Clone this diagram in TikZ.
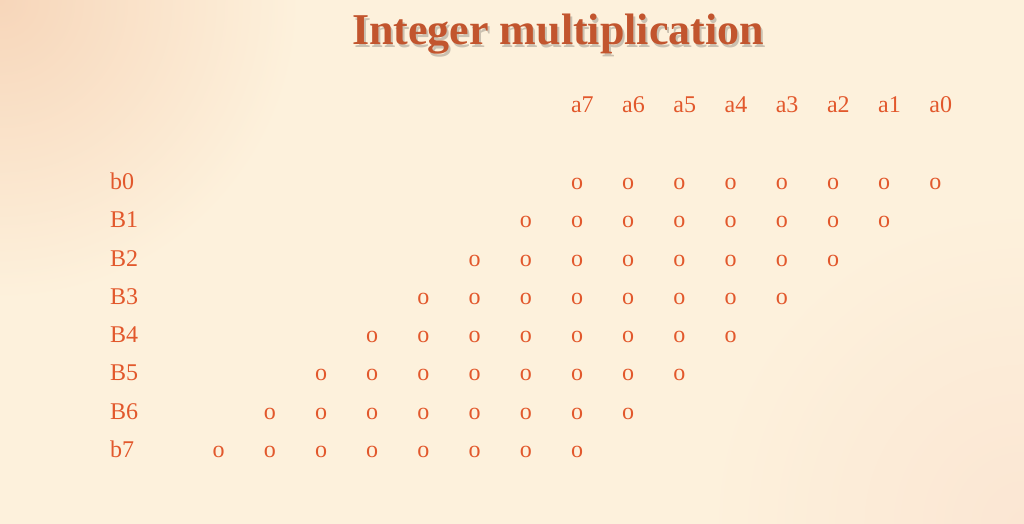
\documentclass[tikz,border=0pt]{standalone}
\usepackage{fontspec}
\setmainfont{Liberation Serif}
\usepackage{xcolor}
\usepackage{tikz}
\usetikzlibrary{matrix}
\definecolor{slidebg}{HTML}{FDF1DC}
\definecolor{peach}{HTML}{F7D6BA}
\definecolor{peachlow}{HTML}{FBE6D3}
\definecolor{digitred}{HTML}{E2582C}
\definecolor{titlered}{HTML}{C2552E}

\begin{document}
\begin{tikzpicture}[x=1pt,y=-1pt,font=\fontsize{24}{28}\selectfont]
						\fill[slidebg] (0,0) rectangle (1024,524);
						\begin{scope}
							\clip (0,0) rectangle (1024,524);
							\shade[inner color=peach,outer color=slidebg] (0,0) circle (300pt);
							\shade[inner color=peachlow,outer color=slidebg] (1024,524) circle (320pt);
						\end{scope}
						\useasboundingbox (0,0) rectangle (1024,524);
						\node[text=black,opacity=0.2,font=\bfseries\fontsize{44}{50}\selectfont] (shadow) at (560,37) {Integer multiplication};
						\node[text=titlered,font=\bfseries\fontsize{44}{50}\selectfont] (title) at (558,34) {Integer multiplication};
						\matrix(m)[matrix of nodes, anchor=north west, inner sep=0pt, nodes={text=digitred, inner sep=0pt, text width=51.2pt, text height=16pt, text depth=5pt, minimum height=38.3pt}, nodes in empty cells, column sep=0pt, row sep=0pt] at (110,88) {
									&	&	&	&	&	&	&	&	&a7	&a6	&a5	&a4	&a3	&a2	&a1	&a0	\\
									\\
						b0			&	&	&	&	&	&	&	&	&o	&o	&o	&o	&o	&o	&o	&o	\\
						B1			&	&	&	&	&	&	&	&o	&o	&o	&o	&o	&o	&o	&o	\\
						B2			&	&	&	&	&	&	&o	&o	&o	&o	&o	&o	&o	&o	\\
						B3			&	&	&	&	&	&o	&o	&o	&o	&o	&o	&o	&o	\\
						B4			&	&	&	&	&o	&o	&o	&o	&o	&o	&o	&o	\\
						B5			&	&	&	&o	&o	&o	&o	&o	&o	&o	&o	\\
						B6			&	&	&o	&o	&o	&o	&o	&o	&o	&o	\\
						b7			&	&o	&o	&o	&o	&o	&o	&o	&o	\\
						};
					\end{tikzpicture}
\end{document}
